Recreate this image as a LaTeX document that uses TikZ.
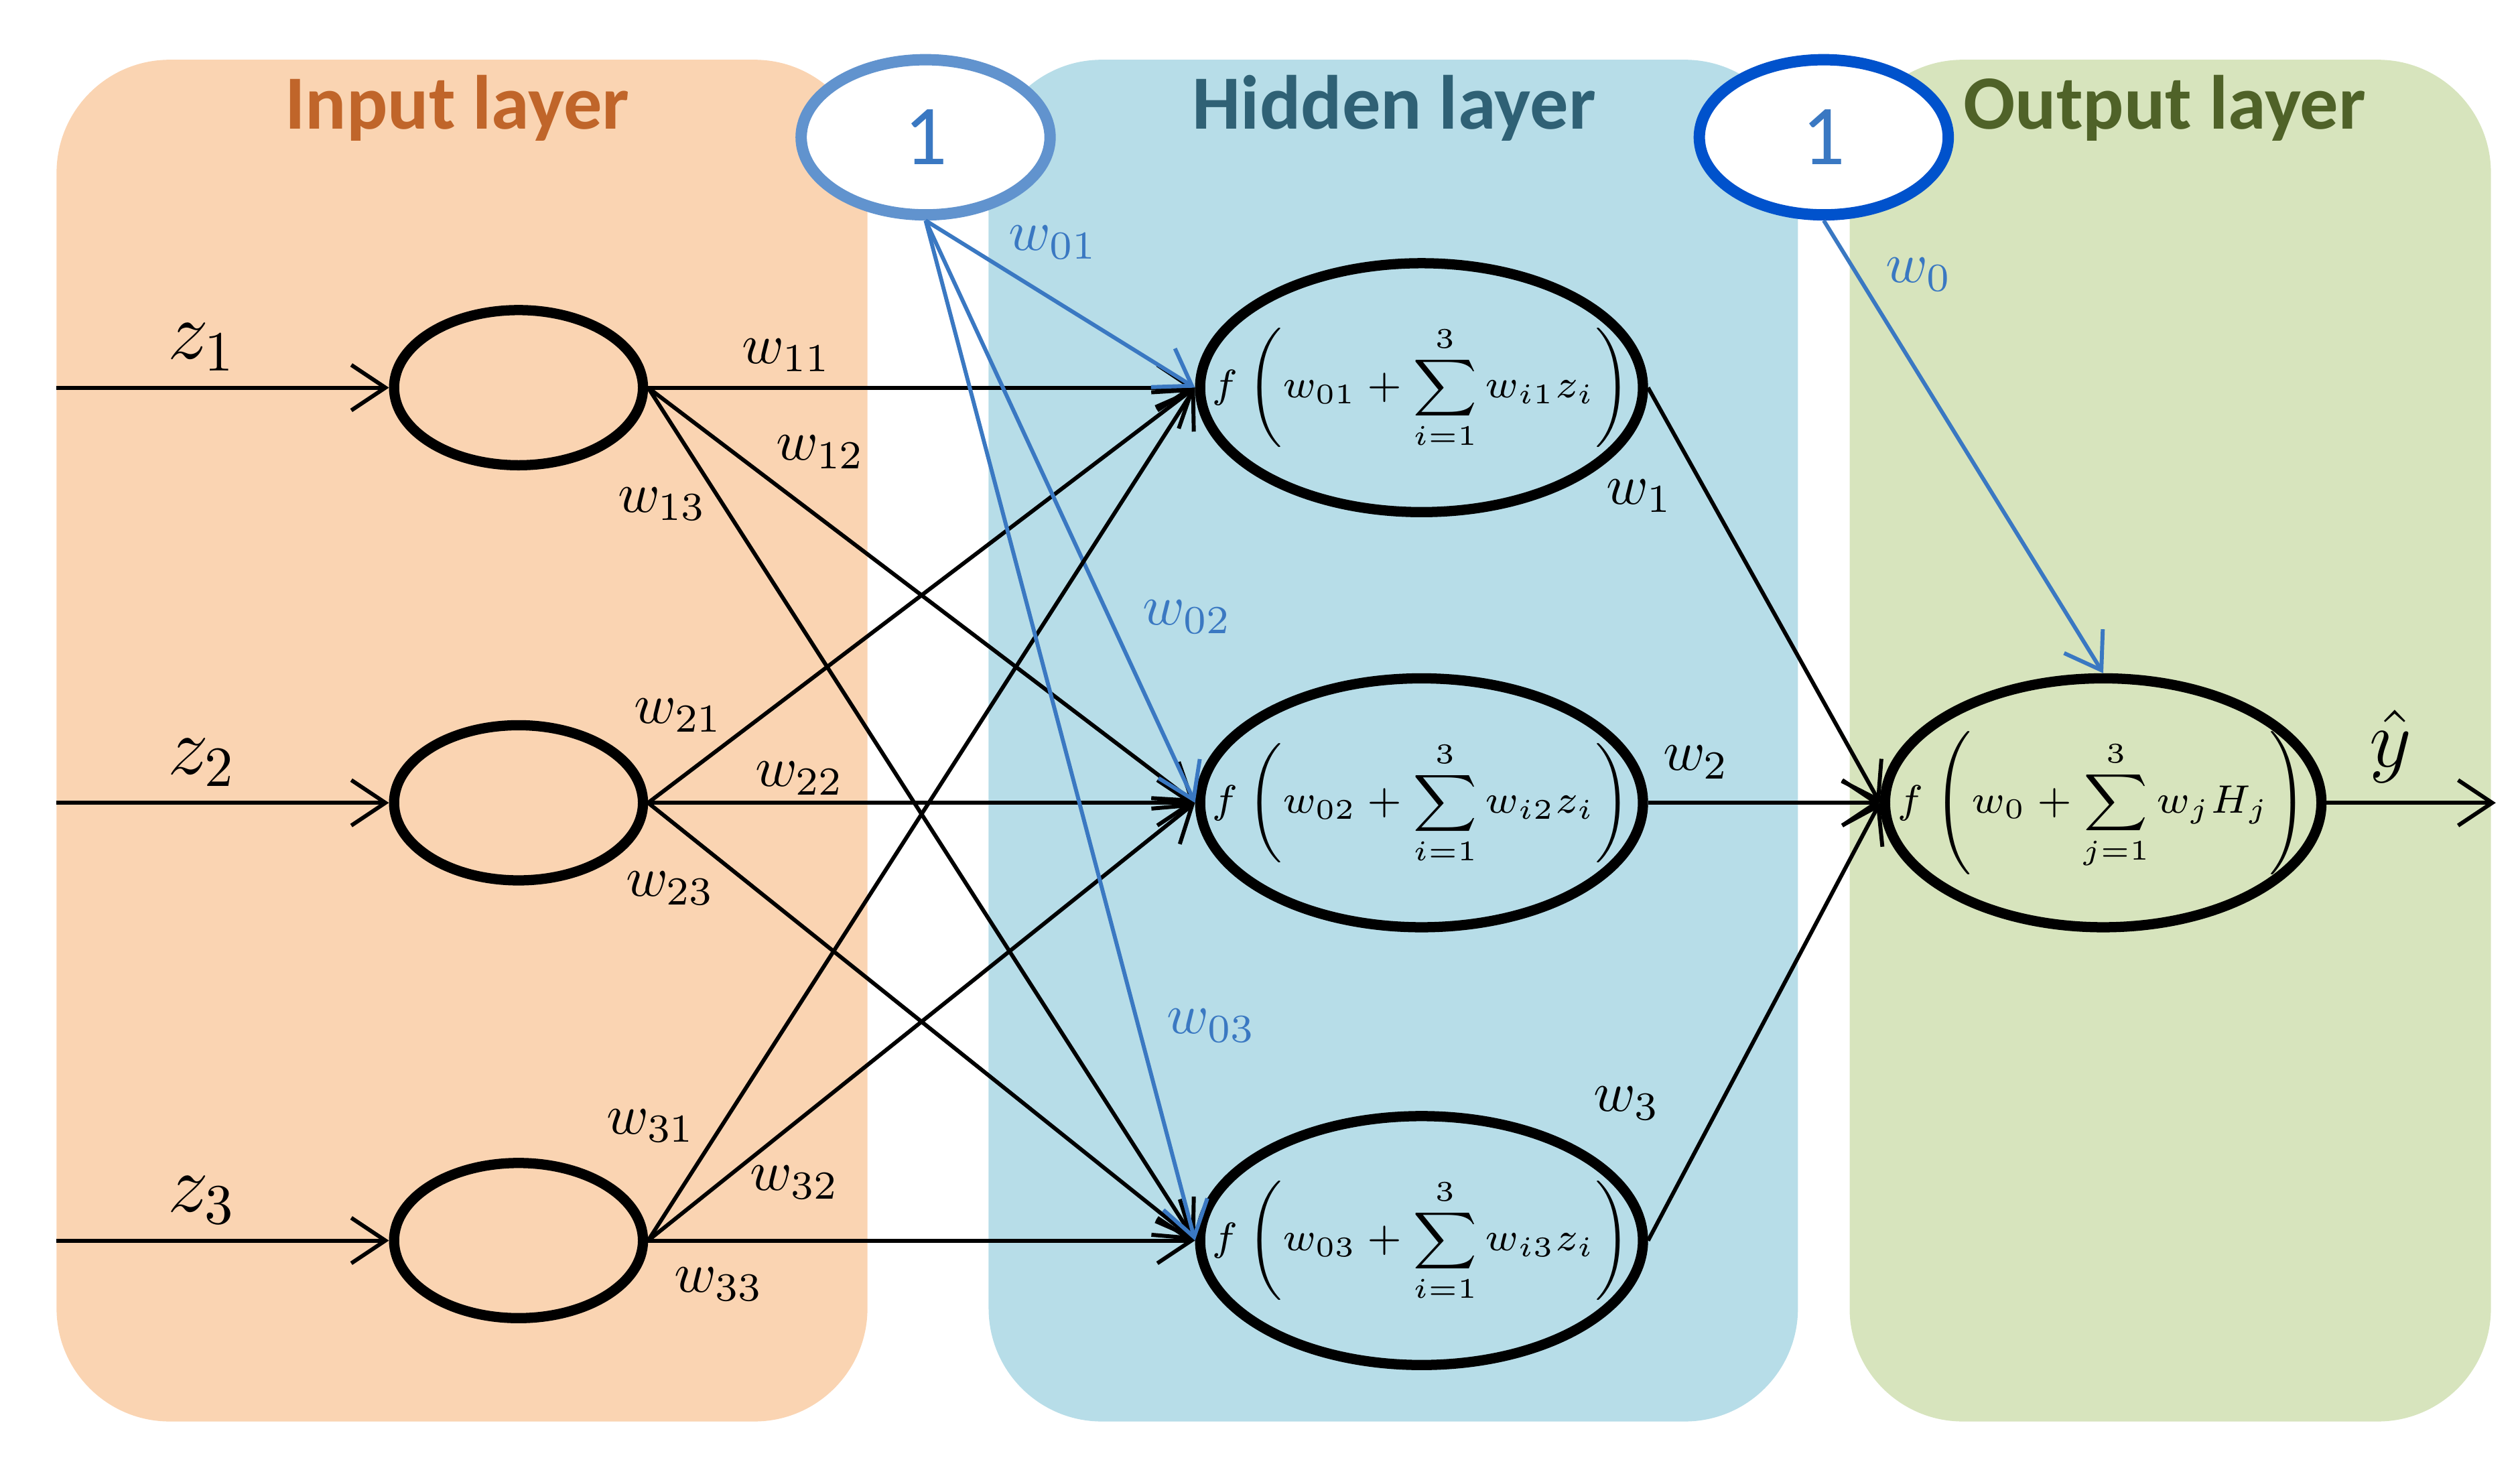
\documentclass[tikz,border=0pt]{standalone}
\usepackage{amsmath}
\usepackage{fontspec}
\newfontfamily\titlefont{Carlito}
\usetikzlibrary{shapes.geometric,arrows.meta}
\definecolor{peach}{HTML}{FAD4B2}
\definecolor{lblue}{HTML}{B7DDE8}
\definecolor{lgreen}{HTML}{D7E4BD}
\definecolor{tbrown}{HTML}{C0652A}
\definecolor{tteal}{HTML}{2F6175}
\definecolor{tolive}{HTML}{4F6228}
\definecolor{bblue}{HTML}{3A78C2}
\begin{document}
\begin{tikzpicture}[x=0.01cm,y=-0.01cm,
  layer/.style={rounded corners=0.7cm,draw=none},
  ttl/.style={font=\titlefont\bfseries\fontsize{13.5}{14}\selectfont},
  inp/.style={ellipse,draw,line width=1.8pt,minimum width=1.54cm,minimum height=0.96cm,inner sep=0},
  hid/.style={ellipse,draw,line width=1.8pt,minimum width=2.74cm,minimum height=1.54cm,inner xsep=-0.55cm,inner ysep=-0.25cm},
  bias/.style={ellipse,draw,line width=2pt,fill=white,minimum width=1.54cm,minimum height=0.96cm,inner sep=0,text=bblue,font=\titlefont\fontsize{15}{15}\selectfont},
  con/.style={-{Straight Barb[length=6pt,width=8pt]},line width=0.7pt},
  bcon/.style={con,draw=bblue},
  wl/.style={font=\normalsize},
  bl/.style={font=\normalsize,text=bblue}]
\useasboundingbox (0,0) rectangle (1560,910);
\fill[peach,layer] (35,37) rectangle (537,880);
\fill[lblue,layer] (612,37) rectangle (1113,880);
\fill[lgreen,layer] (1145,37) rectangle (1542,880);
\node[ttl,text=tbrown] (t1) at (283,67) {Input layer};
\node[ttl,text=tteal] (t2) at (863,67) {Hidden layer};
\node[ttl,text=tolive] (t3) at (1340,67) {Output layer};
\node[bias,draw=bblue!80] (b1) at (573,85) {1};
\node[bias,draw=blue!60!cyan!80!black] (b2) at (1129,85) {1};
\foreach \i/\y in {1/240,2/497,3/768}{
  \node[inp] (i\i) at (321,\y) {};
  \coordinate (s\i) at (35,\y);
  \draw[con] (s\i) -- (i\i.west);
  \node[font=\Large] (z\i) at (125,\y-25) {$z_{\i}$};
  \node[hid] (h\i) at (880,\y) {\scriptsize$\displaystyle f\left(w_{0\i}+\sum_{i=1}^{3}w_{i\i}z_i\right)$};
}
\node[hid,minimum width=2.7cm] (o) at (1302,497) {\scriptsize$\displaystyle f\left(w_{0}+\sum_{j=1}^{3}w_{j}H_j\right)$};
\foreach \i in {1,2,3}{\foreach \j in {1,2,3}{\draw[con] (i\i.east) -- (h\j.west);}
  \draw[con] (h\i.east) -- (o.west);
  \draw[bcon] (b1.south) -- (h\i.west);}
\draw[bcon] (b2.south) -- (o.north);
\coordinate (out) at (1545,497);
\draw[con] (o.east) -- (out);
\node[font=\Large] (yh) at (1480,462) {$\hat{y}$};
\node[wl] at (487,220) {$w_{11}$};
\node[wl] at (508,280) {$w_{12}$};
\node[wl] at (410,312) {$w_{13}$};
\node[wl] at (420,443) {$w_{21}$};
\node[wl] at (495,482) {$w_{22}$};
\node[wl] at (415,550) {$w_{23}$};
\node[wl] at (403,697) {$w_{31}$};
\node[wl] at (492,732) {$w_{32}$};
\node[wl] at (445,795) {$w_{33}$};
\node[wl] at (1015,307) {$w_{1}$};
\node[wl] at (1050,472) {$w_{2}$};
\node[wl] at (1007,683) {$w_{3}$};
\node[bl] at (652,150) {$w_{01}$};
\node[bl] at (735,382) {$w_{02}$};
\node[bl] at (750,635) {$w_{03}$};
\node[bl] at (1188,170) {$w_{0}$};
\end{tikzpicture}
\end{document}
